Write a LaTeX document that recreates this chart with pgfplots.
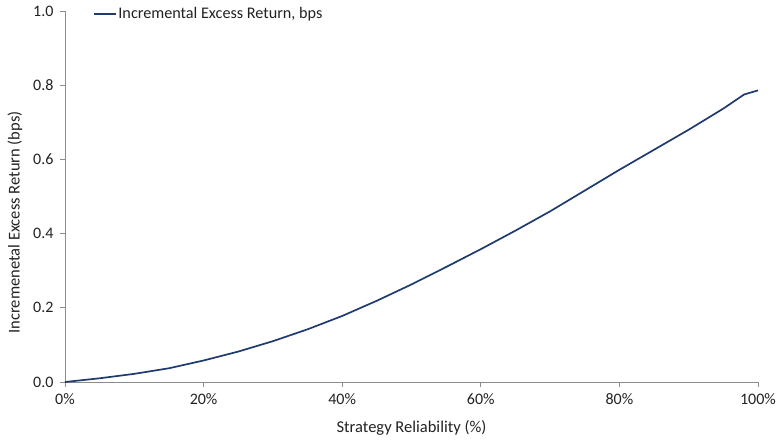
\documentclass[border=0pt]{standalone}
\usepackage{fontspec}
\setmainfont{Carlito}
\usepackage{pgfplots}
\pgfplotsset{compat=1.18}
\definecolor{navy}{HTML}{1F3A6E}
\definecolor{axgray}{HTML}{8C8C8C}
\definecolor{txt}{HTML}{222222}

\begin{document}
\begin{tikzpicture}[x=1pt,y=1pt]
  \useasboundingbox (0,0) rectangle (780,440);
  \begin{axis}[
    at={(65pt,58pt)}, anchor=origin,
    scale only axis,
    width=693pt, height=371pt,
    xmin=0, xmax=100, ymin=0, ymax=1,
    axis lines=left,
    axis line style={-, axgray, line width=0.8pt},
    tick style={axgray, line width=0.8pt},
    tick align=outside,
    major tick length=5pt,
    xtick={0,20,40,60,80,100},
    xticklabels={0\%,20\%,40\%,60\%,80\%,100\%},
    ytick={0,0.2,0.4,0.6,0.8,1.0},
    yticklabels={0.0,0.2,0.4,0.6,0.8,1.0},
    ticklabel style={font=\fontsize{16}{19}\selectfont, text=txt},
    xticklabel style={yshift=-3pt},
    yticklabel style={xshift=-3pt},
    xlabel={Strategy Reliability (\%)},
    ylabel={Incremenetal Excess Return (bps)},
    label style={font=\fontsize{16.5}{19}\selectfont, text=txt},
    xlabel style={yshift=-9pt},
    ylabel style={at={(ticklabel cs:0.43)}, yshift=4pt},
    legend style={at={(rel axis cs:0.04,0.992)}, anchor=west, draw=none,
      fill=none, font=\fontsize{16.2}{19}\selectfont, text=txt,
      inner sep=0pt, outer sep=0pt},
    legend cell align=left,
    legend image code/.code={\draw[#1] (0pt,0pt) -- (22pt,0pt);},
    clip=false,
  ]
    \addplot[navy, line width=1.7pt, line join=round] coordinates {
      (0,0) (2,0.004) (5,0.010) (10,0.022) (15,0.037) (20,0.058)
      (25,0.082) (30,0.110) (35,0.142) (40,0.178) (45,0.219) (50,0.263)
      (55,0.310) (60,0.358) (65,0.408) (70,0.460) (75,0.516) (80,0.572)
      (85,0.626) (90,0.680) (95,0.737) (98,0.775) (100,0.786)
    };
    \addlegendentry{Incremental Excess Return, bps}
  \end{axis}
\end{tikzpicture}
\end{document}
